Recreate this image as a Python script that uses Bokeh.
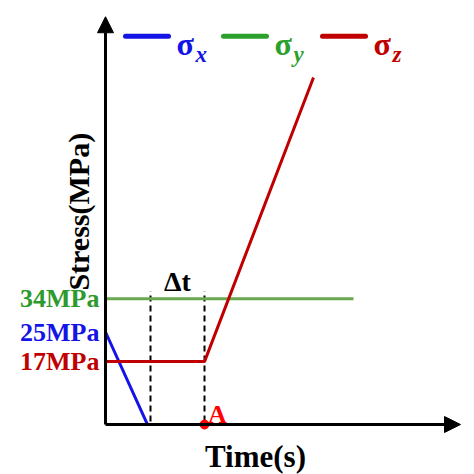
from bokeh.plotting import figure
from bokeh.models import Range1d, Arrow, NormalHead
from bokeh.core.properties import value
from bokeh.embed import file_html
from bokeh.resources import INLINE
import math

# ---- data (time in arbitrary units, stress in MPa) ----
sx_t = [0.0, 4.2]
sx_s = [25, 0]
sy_t = [0.0, 24.8]
sy_s = [34, 34]
sz_t = [0.0, 9.9, 20.8]
sz_s = [17, 17, 93.8]
dash_t = [4.5, 9.9]
dash_s = [0.8, 36.0]
point_a = (9.9, 0.0)
tick_vals = [34, 25, 17]
tick_labels = ["34MPa", "25MPa", "17MPa"]
BLUE = "#1414e6"
GREEN_LINE = "#6aa84f"
GREEN_TEXT = "#2e9a2e"
GREEN_LEG = "#2ca02c"
RED = "#c00000"
tick_colors = [GREEN_TEXT, BLUE, RED]
legend_names = ["x", "y", "z"]
legend_colors = [BLUE, GREEN_LEG, RED]

FONT = value("Liberation Serif")

p = figure(width=474, height=474, output_backend="svg", toolbar_location=None,
           x_range=Range1d(-10.5, 36.9), y_range=Range1d(-13.51, 114.59),
           min_border=0, outline_line_color=None)
p.axis.visible = False
p.grid.visible = False

# axes with arrows
p.add_layout(Arrow(x_start=0, y_start=0, x_end=35.5, y_end=0, line_width=3,
                   line_color="black",
                   end=NormalHead(size=16, fill_color="black", line_color="black")))
p.add_layout(Arrow(x_start=0, y_start=0, x_end=0, y_end=110.2, line_width=3,
                   line_color="black",
                   end=NormalHead(size=16, fill_color="black", line_color="black")))

# dashed guides
for t in dash_t:
    p.line([t, t], dash_s, line_color="black", line_width=2, line_dash="6 4")

# series
p.line(sy_t, sy_s, line_color=GREEN_LINE, line_width=3)
p.line(sx_t, sx_s, line_color=BLUE, line_width=3)
p.line(sz_t, sz_s, line_color=RED, line_width=3)

# point A
p.scatter([point_a[0]], [point_a[1]], size=9, fill_color="red", line_color="red")
p.text([point_a[0] + 0.35], [point_a[1] + 2.6], text=["A"], text_color="red",
       text_font=FONT, text_font_style="bold", text_font_size="26px",
       text_align="left", text_baseline="alphabetic")

# tick labels
p.text([-0.6] * 3, tick_vals, text=tick_labels, text_color=tick_colors,
       text_font=FONT, text_font_style="bold", text_font_size="26px",
       text_align="right", text_baseline="middle")

# delta t label
p.text([(dash_t[0] + dash_t[1]) / 2], [38.6], text=["Δt"], text_color="black",
       text_font=FONT, text_font_style="bold", text_font_size="28px",
       text_align="center", text_baseline="middle")

# axis titles
p.text([-2.7], [57.5], text=["Stress(MPa)"], angle=math.pi / 2, text_color="black",
       text_font=FONT, text_font_style="bold", text_font_size="30px",
       text_align="center", text_baseline="middle")
p.text([15.0], [-8.6], text=["Time(s)"], text_color="black",
       text_font=FONT, text_font_style="bold", text_font_size="31px",
       text_align="center", text_baseline="middle")

# legend (manual, with subscripts)
leg_x0 = [2.0, 11.8, 21.7]
for x0, name, col in zip(leg_x0, legend_names, legend_colors):
    p.line([x0, x0 + 4.3], [104.9, 104.9], line_color=col, line_width=5,
           line_cap="round")
    p.text([x0 + 5.1], [102.7], text=["σ"], text_color=col, text_font=FONT,
           text_font_style="bold", text_font_size="32px",
           text_align="left", text_baseline="alphabetic")
    p.text([x0 + 7.0], [100.0], text=[name], text_color=col, text_font=FONT,
           text_font_style="bold italic", text_font_size="23px",
           text_align="left", text_baseline="alphabetic")

open("out.html", "w").write(file_html(p, INLINE))
